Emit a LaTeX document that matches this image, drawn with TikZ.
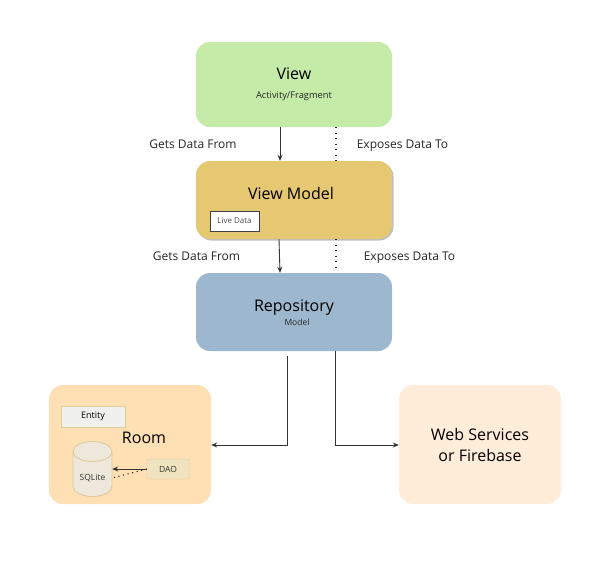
\documentclass[tikz,border=0pt]{standalone}
\usepackage{fontspec}
\setmainfont{Open Sans}
\usetikzlibrary{arrows.meta,calc,shadows}
\tikzset{
  panel/.style={rounded corners=14pt,minimum width=196pt,align=center,inner sep=0pt,text=black},
  big/.style={font=\fontsize{16}{19}\selectfont,text height=12pt,text depth=4pt,inner sep=0pt},
  lbl/.style={font=\fontsize{12}{14}\selectfont,text=black!85,inner sep=0pt,text height=9pt,text depth=3pt},
  tiny/.style={font=\fontsize{9.3}{11}\selectfont,text=black!85,inner sep=0pt,text height=7pt,text depth=2pt},
  flow/.style={draw=black!80,line width=0.9pt,-{Stealth[length=6pt,width=5pt]}},
  dots/.style={draw=black!85,line width=1.1pt,dash pattern=on 1.1pt off 4.4pt},
}
\begin{document}
\begin{tikzpicture}[x=1pt,y=-1pt]
\useasboundingbox (0,0) rectangle (590,576);
\fill[white] (0,0) rectangle (590,576);
\node[panel,fill={rgb,255:red,197;green,235;blue,168},minimum height=85pt] (view) at (294,84.5) {};
\node[big] (viewt) at (294,75.5) {View};
\node[tiny] (views) at (294,96) {Activity/Fragment};
\node[panel,fill={rgb,255:red,230;green,200;blue,114},minimum height=78pt,drop shadow={shadow xshift=1.5pt,shadow yshift=-1.5pt,opacity=0.25,fill=black}] (vm) at (294,200) {};
\node[big] (vmt) at (291,195) {View Model};
\node[draw=black!75,fill=white,line width=0.9pt,minimum width=49pt,minimum height=20pt,inner sep=0pt,font=\fontsize{8}{10}\selectfont,text=black!70] (live) at (234.5,221) {Live Data};
\node[panel,fill={rgb,255:red,157;green,184;blue,206},minimum height=78pt] (repo) at (294,312) {};
\node[big] (repot) at (294,307) {Repository};
\node[font=\fontsize{8.5}{10}\selectfont,text=black!85,inner sep=0pt,text height=7pt,text depth=2pt] (repos) at (297,323) {Model};
\node[panel,fill={rgb,255:red,255;green,224;blue,181},minimum width=162pt,minimum height=119pt] (room) at (130,444.5) {};
\node[big] (roomt) at (144,439.5) {Room};
\node[draw={rgb,255:red,221;green,207;blue,153},fill={rgb,255:red,240;green,240;blue,236},minimum width=64pt,minimum height=21pt,inner sep=0pt,font=\fontsize{9}{11}\selectfont] (entity) at (93,416.5) {Entity};
% database cylinder
\path[draw={rgb,255:red,221;green,200;blue,150},fill={rgb,255:red,238;green,232;blue,220},line width=0.8pt]
  (73,451.5) arc[x radius=19.5pt,y radius=10pt,start angle=180,end angle=0,y=1pt]
  -- (112,486.5) arc[x radius=19.5pt,y radius=10pt,start angle=0,end angle=-180,y=1pt] -- cycle;
\path[draw={rgb,255:red,221;green,200;blue,150},line width=0.8pt]
  (73,451.5) arc[x radius=19.5pt,y radius=10pt,start angle=180,end angle=360,y=1pt];
\node[minimum width=39pt,minimum height=56pt,inner sep=0pt] (sql) at (92.5,469) {};
\node[font=\fontsize{8.5}{10}\selectfont,text=black!80,inner sep=0pt] (sqlt) at (92.5,478.5) {SQLite};
\node[draw={rgb,255:red,221;green,200;blue,130},fill={rgb,255:red,240;green,227;blue,191},rounded corners=2pt,minimum width=42pt,minimum height=20pt,inner sep=0pt,font=\fontsize{8.5}{10}\selectfont,text=black!80] (dao) at (168,469) {DAO};
\node[panel,fill={rgb,255:red,255;green,237;blue,217},minimum width=162pt,minimum height=119pt,font=\fontsize{16}{19}\selectfont] (web) at (480,444.5) {Web Services\\[2pt]or Firebase};
\node[lbl] (l1) at (193,145) {Gets Data From};
\node[lbl] (l2) at (402.5,145) {Exposes Data To};
\node[lbl] (l3) at (196.5,257) {Gets Data From};
\node[lbl] (l4) at (409.5,257) {Exposes Data To};
\coordinate (ra) at (287,356);
\coordinate (rb) at (335,351);
\draw[flow] (view.south -| 280,0) -- (vm.north -| 280,0);
\draw[dots] (view.south -| 336,0) -- (vm.north -| 336,0);
\draw[flow] (vm.south -| 279,0) -- (repo.north -| 280,0);
\draw[dots,shorten >=3pt] (vm.south -| 336,0) -- (repo.north -| 336,0);
\draw[flow] (ra) |- (room.east |- 0,445);
\draw[flow] (rb) |- (web.west |- 0,445);
\draw[flow,line width=0.8pt] (dao.west) -- (sql.east |- dao.west);
\draw[dots,dash pattern=on 1.1pt off 3.6pt] (dao.west) -- (112,478);
\end{tikzpicture}
\end{document}
